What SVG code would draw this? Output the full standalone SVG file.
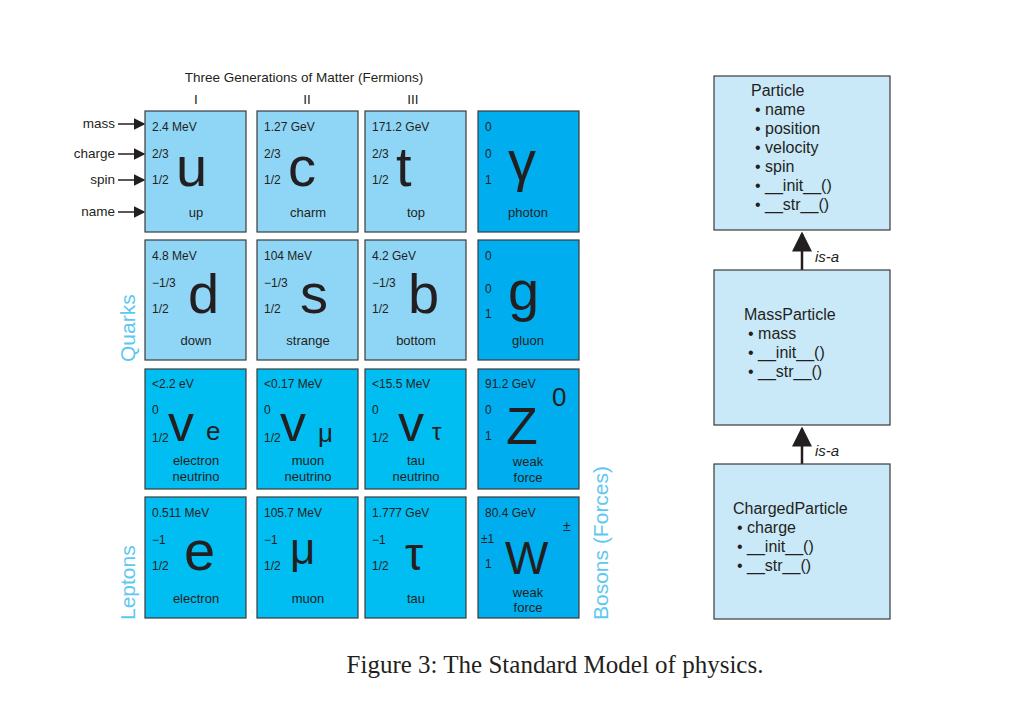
<svg xmlns="http://www.w3.org/2000/svg" width="1024" height="708" viewBox="0 0 1024 708">
<defs>
<style>
text{font-family:"Liberation Sans",Arial,sans-serif;fill:#231f20}
.c{stroke:#3a3a3a;stroke-width:1.2}
.q{fill:#8fd6f6}.l{fill:#00bdf2}.b{fill:#00aeef}
.s{font-size:12px}.n{font-size:13px;text-anchor:middle}
.big{font-size:56px}
.r{fill:#c9e9f9;stroke:#3a3a3a;stroke-width:1.2}
.t{font-size:16px}
.cap{font-family:"Liberation Serif","Times New Roman",serif;font-size:25px}
.lab{font-size:13.5px}
.side{font-size:21px;fill:#5fc8f0}
</style>
<marker id="ah" markerWidth="8" markerHeight="8" refX="7" refY="4" orient="auto"><path d="M0,0L8,4L0,8z" fill="#231f20"/></marker>
</defs>
<text x="304" y="82" class="lab" text-anchor="middle">Three Generations of Matter (Fermions)</text>
<text x="196" y="104" class="lab" text-anchor="middle">I</text>
<text x="307" y="104" class="lab" text-anchor="middle">II</text>
<text x="413" y="104" class="lab" text-anchor="middle">III</text>
<g id="labels" class="lab">
<text x="115" y="128" text-anchor="end">mass</text>
<text x="115" y="158" text-anchor="end">charge</text>
<text x="115" y="184" text-anchor="end">spin</text>
<text x="115" y="216" text-anchor="end">name</text>
</g>
<g id="connectors" stroke="#231f20" stroke-width="1.5" marker-end="url(#ah)">
<line x1="118" y1="124" x2="144" y2="124"/>
<line x1="118" y1="154" x2="144" y2="154"/>
<line x1="118" y1="180" x2="144" y2="180"/>
<line x1="118" y1="212" x2="144" y2="212"/>
<line x1="802" y1="270" x2="802" y2="234" stroke-width="2.5"/>
<line x1="802" y1="464" x2="802" y2="429" stroke-width="2.5"/>
</g>
<text class="side" transform="translate(135,362) rotate(-90)">Quarks</text>
<text class="side" transform="translate(135,620) rotate(-90)">Leptons</text>
<text class="side" transform="translate(608,620) rotate(-90)">Bosons (Forces)</text>
<g id="up"><rect class="c q" x="145" y="111" width="101" height="121"/><text x="152" y="131" class="s">2.4 MeV</text><text x="152" y="158" class="s">2/3</text><text x="152" y="184" class="s">1/2</text><text x="176" y="186" class="big">u</text><text x="196" y="217" class="n">up</text></g>
<g id="charm"><rect class="c q" x="257" y="111" width="101" height="121"/><text x="264" y="131" class="s">1.27 GeV</text><text x="264" y="158" class="s">2/3</text><text x="264" y="184" class="s">1/2</text><text x="288" y="186" class="big">c</text><text x="308" y="217" class="n">charm</text></g>
<g id="top"><rect class="c q" x="365" y="111" width="101" height="121"/><text x="372" y="131" class="s">171.2 GeV</text><text x="372" y="158" class="s">2/3</text><text x="372" y="184" class="s">1/2</text><text x="396" y="186" class="big">t</text><text x="416" y="217" class="n">top</text></g>
<g id="photon"><rect class="c b" x="478" y="111" width="101" height="121"/><text x="485" y="131" class="s">0</text><text x="485" y="158" class="s">0</text><text x="485" y="184" class="s">1</text><text x="508" y="180" class="big">γ</text><text x="528" y="217" class="n">photon</text></g>
<g id="down"><rect class="c q" x="145" y="240" width="101" height="120"/><text x="152" y="260" class="s">4.8 MeV</text><text x="152" y="287" class="s">−1/3</text><text x="152" y="313" class="s">1/2</text><text x="188" y="313" class="big">d</text><text x="196" y="345" class="n">down</text></g>
<g id="strange"><rect class="c q" x="257" y="240" width="101" height="120"/><text x="264" y="260" class="s">104 MeV</text><text x="264" y="287" class="s">−1/3</text><text x="264" y="313" class="s">1/2</text><text x="300" y="313" class="big">s</text><text x="308" y="345" class="n">strange</text></g>
<g id="bottom"><rect class="c q" x="365" y="240" width="101" height="120"/><text x="372" y="260" class="s">4.2 GeV</text><text x="372" y="287" class="s">−1/3</text><text x="372" y="313" class="s">1/2</text><text x="408" y="313" class="big">b</text><text x="416" y="345" class="n">bottom</text></g>
<g id="gluon"><rect class="c b" x="478" y="240" width="101" height="120"/><text x="485" y="260" class="s">0</text><text x="485" y="293" class="s">0</text><text x="485" y="318" class="s">1</text><text x="508" y="310" class="big">g</text><text x="528" y="345" class="n">gluon</text></g>
<g id="enu"><rect class="c l" x="145" y="369" width="101" height="120"/><text x="152" y="388" class="s">&lt;2.2 eV</text><text x="152" y="414" class="s">0</text><text x="152" y="442" class="s">1/2</text><text x="168" y="441" font-size="52">v</text><text x="206" y="440" font-size="26">e</text><text x="196" y="465" class="n">electron</text><text x="196" y="481" class="n">neutrino</text></g>
<g id="munu"><rect class="c l" x="257" y="369" width="101" height="120"/><text x="264" y="388" class="s">&lt;0.17 MeV</text><text x="264" y="414" class="s">0</text><text x="264" y="442" class="s">1/2</text><text x="280" y="441" font-size="52">v</text><text x="318" y="442" font-size="26">μ</text><text x="308" y="465" class="n">muon</text><text x="308" y="481" class="n">neutrino</text></g>
<g id="taunu"><rect class="c l" x="365" y="369" width="101" height="120"/><text x="372" y="388" class="s">&lt;15.5 MeV</text><text x="372" y="414" class="s">0</text><text x="372" y="442" class="s">1/2</text><text x="398" y="441" font-size="52">v</text><text x="432" y="440" font-size="24">τ</text><text x="416" y="465" class="n">tau</text><text x="416" y="481" class="n">neutrino</text></g>
<g id="zboson"><rect class="c b" x="478" y="369" width="101" height="120"/><text x="485" y="388" class="s">91.2 GeV</text><text x="485" y="414" class="s">0</text><text x="485" y="440" class="s">1</text><text x="506" y="444" font-size="52">Z</text><text x="552" y="406" font-size="26">0</text><text x="528" y="466" class="n">weak</text><text x="528" y="482" class="n">force</text></g>
<g id="electron"><rect class="c l" x="145" y="497" width="101" height="121"/><text x="152" y="517" class="s">0.511 MeV</text><text x="152" y="544" class="s">−1</text><text x="152" y="570" class="s">1/2</text><text x="184" y="570" class="big">e</text><text x="196" y="603" class="n">electron</text></g>
<g id="muon"><rect class="c l" x="257" y="497" width="101" height="121"/><text x="264" y="517" class="s">105.7 MeV</text><text x="264" y="544" class="s">−1</text><text x="264" y="570" class="s">1/2</text><text x="290" y="564" font-size="44">μ</text><text x="308" y="603" class="n">muon</text></g>
<g id="tau"><rect class="c l" x="365" y="497" width="101" height="121"/><text x="372" y="517" class="s">1.777 GeV</text><text x="372" y="544" class="s">−1</text><text x="372" y="570" class="s">1/2</text><text x="405" y="570" font-size="46">τ</text><text x="416" y="603" class="n">tau</text></g>
<g id="wboson"><rect class="c b" x="478" y="497" width="101" height="121"/><text x="485" y="517" class="s">80.4 GeV</text><text x="481" y="543" class="s">±1</text><text x="485" y="568" class="s">1</text><text x="505" y="574" font-size="46">W</text><text x="563" y="531" font-size="14">±</text><text x="528" y="597" class="n">weak</text><text x="528" y="612" class="n">force</text></g>
<g id="particle"><rect class="r" x="714" y="76" width="176" height="154"/><text x="751" y="96" class="t">Particle</text><text x="755" y="115" class="t">• name</text><text x="755" y="134" class="t">• position</text><text x="755" y="153" class="t">• velocity</text><text x="755" y="172" class="t">• spin</text><text x="755" y="191" class="t">• __init__()</text><text x="755" y="210" class="t">• __str__()</text></g>
<text x="815" y="262" font-style="italic" font-size="15">is-a</text>
<g id="massparticle"><rect class="r" x="714" y="270" width="176" height="155"/><text x="744" y="320" class="t">MassParticle</text><text x="748" y="339" class="t">• mass</text><text x="748" y="358" class="t">• __init__()</text><text x="748" y="377" class="t">• __str__()</text></g>
<text x="815" y="456" font-style="italic" font-size="15">is-a</text>
<g id="chargedparticle"><rect class="r" x="714" y="464" width="176" height="155"/><text x="733" y="514" class="t">ChargedParticle</text><text x="737" y="533" class="t">• charge</text><text x="737" y="552" class="t">• __init__()</text><text x="737" y="571" class="t">• __str__()</text></g>
<text x="555" y="673" class="cap" text-anchor="middle">Figure 3: The Standard Model of physics.</text>
</svg>
